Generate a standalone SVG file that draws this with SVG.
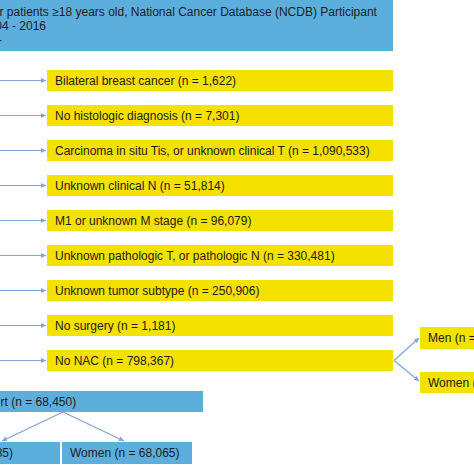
<svg xmlns="http://www.w3.org/2000/svg" width="474" height="474" viewBox="0 0 474 474">
<defs>
<style>
.blue{fill:#5cafdc}
.yel{fill:#f4e100}
.t{font-family:"Liberation Sans",Arial,sans-serif;font-size:12px;fill:#1c1c1c}
.c{stroke:#7fa3d4;stroke-width:1.2;fill:none}
</style>
<marker id="ah" markerWidth="6" markerHeight="6" refX="5" refY="3" orient="auto" markerUnits="userSpaceOnUse">
<path d="M0,0.5 L5,3 L0,5.5 Z" fill="#7fa3d4"/>
</marker>
</defs>
<rect width="474" height="474" fill="#ffffff"/>
<g id="top">
<rect class="blue" x="-2" y="-2" width="395" height="53"/>
<text class="t" x="-0.5" y="16">r patients ≥18 years old, National Cancer Database (NCDB) Participant</text>
<text class="t" x="-4.7" y="30">04 - 2016</text>
<text class="t" x="-2" y="44">-</text>
</g>
<g id="connectors">
<line class="c" x1="0" y1="80.5" x2="46" y2="80.5" marker-end="url(#ah)"/>
<line class="c" x1="0" y1="115.5" x2="46" y2="115.5" marker-end="url(#ah)"/>
<line class="c" x1="0" y1="150.5" x2="46" y2="150.5" marker-end="url(#ah)"/>
<line class="c" x1="0" y1="185.5" x2="46" y2="185.5" marker-end="url(#ah)"/>
<line class="c" x1="0" y1="220.5" x2="46" y2="220.5" marker-end="url(#ah)"/>
<line class="c" x1="0" y1="255.5" x2="46" y2="255.5" marker-end="url(#ah)"/>
<line class="c" x1="0" y1="290.5" x2="46" y2="290.5" marker-end="url(#ah)"/>
<line class="c" x1="0" y1="325.5" x2="46" y2="325.5" marker-end="url(#ah)"/>
<line class="c" x1="0" y1="360.5" x2="46" y2="360.5" marker-end="url(#ah)"/>
<line class="c" x1="394" y1="360.5" x2="419" y2="338" marker-end="url(#ah)"/>
<line class="c" x1="394" y1="360.5" x2="419" y2="381" marker-end="url(#ah)"/>
<line class="c" x1="63" y1="412" x2="2" y2="441" marker-end="url(#ah)"/>
<line class="c" x1="63" y1="412" x2="124" y2="441" marker-end="url(#ah)"/>
</g>
<g id="n1"><rect class="yel" x="47" y="70" width="346" height="21"/><text class="t" x="55" y="85">Bilateral breast cancer (n = 1,622)</text></g>
<g id="n2"><rect class="yel" x="47" y="105" width="346" height="21"/><text class="t" x="55" y="120">No histologic diagnosis (n = 7,301)</text></g>
<g id="n3"><rect class="yel" x="47" y="140" width="346" height="21"/><text class="t" x="55" y="155">Carcinoma in situ Tis, or unknown clinical T (n = 1,090,533)</text></g>
<g id="n4"><rect class="yel" x="47" y="175" width="346" height="21"/><text class="t" x="55" y="190">Unknown clinical N (n = 51,814)</text></g>
<g id="n5"><rect class="yel" x="47" y="210" width="346" height="21"/><text class="t" x="55" y="225">M1 or unknown M stage (n = 96,079)</text></g>
<g id="n6"><rect class="yel" x="47" y="245" width="346" height="21"/><text class="t" x="55" y="260">Unknown pathologic T, or pathologic N (n = 330,481)</text></g>
<g id="n7"><rect class="yel" x="47" y="280" width="346" height="21"/><text class="t" x="55" y="295">Unknown tumor subtype (n = 250,906)</text></g>
<g id="n8"><rect class="yel" x="47" y="315" width="346" height="21"/><text class="t" x="55" y="330">No surgery (n = 1,181)</text></g>
<g id="n9"><rect class="yel" x="47" y="350" width="346" height="21"/><text class="t" x="55" y="365">No NAC (n = 798,367)</text></g>
<g id="men-r"><rect class="yel" x="420" y="327" width="56" height="22"/><text class="t" x="428" y="342">Men (n =</text></g>
<g id="women-r"><rect class="yel" x="420" y="372" width="56" height="21"/><text class="t" x="428" y="387">Women (</text></g>
<g id="cohort"><rect class="blue" x="-2" y="391" width="205" height="21"/><text class="t" x="0.5" y="406">rt (n = 68,450)</text></g>
<g id="men-b"><rect class="blue" x="-2" y="442" width="62" height="22"/><text class="t" x="13" y="457" text-anchor="end">385)</text></g>
<g id="women-b"><rect class="blue" x="62" y="442" width="130" height="22"/><text class="t" x="70" y="457">Women (n = 68,065)</text></g>
</svg>
